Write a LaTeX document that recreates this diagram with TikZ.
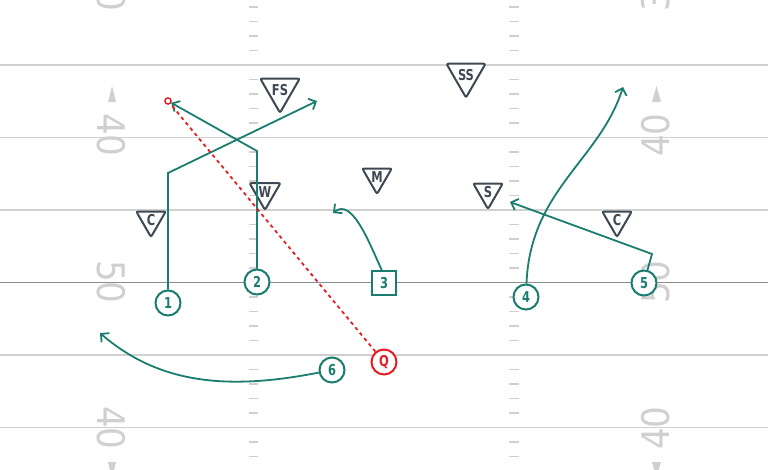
\documentclass[tikz,border=0pt]{standalone}
\usepackage{fontspec}
\newfontfamily\yardfont{DejaVu Sans Condensed}
\newfontfamily\playerfont{DejaVu Sans Condensed}[FakeStretch=0.85]
\usetikzlibrary{arrows.meta,shapes.geometric}

\definecolor{offcol}{RGB}{26,125,112}
\definecolor{defcol}{RGB}{62,72,82}
\definecolor{qbred}{RGB}{230,30,35}
\definecolor{numgray}{RGB}{208,208,208}
\definecolor{scrimgray}{RGB}{140,140,140}

\tikzset{
  yardline/.style={numgray, line width=1.5pt},
  scrimline/.style={scrimgray, line width=1.5pt},
  hashmark/.style={numgray, line width=1.3pt},
  yard/.style={text=numgray, font=\yardfont\fontsize{38}{38}\selectfont, inner sep=0pt},
  player/.style={circle, draw=offcol, fill=white, line width=2pt, minimum size=25pt,
    inner sep=0pt, text=offcol, font=\playerfont\bfseries\fontsize{15}{15}\selectfont},
  defender/.style={regular polygon, regular polygon sides=3, shape border rotate=180,
    draw=defcol, fill=white, line width=2pt, minimum size=34pt, inner sep=0pt,
    rounded corners=2pt, text=defcol, font=\playerfont\bfseries\fontsize{15}{15}\selectfont},
  route/.style={offcol, line width=1.8pt}
}

\begin{document}
\begin{tikzpicture}[x=1pt, y=-1pt, >={Straight Barb[length=6pt,width=12pt]}]
            \clip (0,0) rectangle (768,469);
            \fill[white] (0,0) rectangle (768,469);

            % Draw the yard lines
            \foreach \y in {65,137.5,210,355,427.5}
                \draw[yardline] (0,\y) -- (768,\y);
            \draw[scrimline] (0,282.5) -- (768,282.5);

            % Draw the hash marks
            \foreach \i in {-4,...,28} {
                \pgfmathtruncatemacro\r{mod(\i+20,5)}
                \pgfmathsetmacro\y{65+14.5*\i}
                \ifnum\r=0 \else
                    \draw[hashmark] (249,\y) -- (258,\y);
                    \draw[hashmark] (509,\y) -- (519,\y);
                \fi
            }

            % Draw the yard numbers
            \node[yard, rotate=-90] (l30) at (111.5,-10) {30};
            \node[yard, rotate=-90] (l40) at (111.5,135) {40};
            \node[yard, rotate=-90] (l50) at (111.5,282) {50};
            \node[yard, rotate=-90] (l40b) at (111.5,428) {40};
            \node[yard, rotate=90] (r30) at (655.5,-10) {30};
            \node[yard, rotate=90] (r40) at (655.5,135) {40};
            \node[yard, rotate=90] (r50) at (655.5,282) {50};
            \node[yard, rotate=90] (r40b) at (655.5,428) {40};
            \fill[numgray] (108,102) -- (116,102) -- (112,86) -- cycle;
            \fill[numgray] (652,102) -- (661,102) -- (656.5,86) -- cycle;
            \fill[numgray] (108,462) -- (116,462) -- (112,478) -- cycle;
            \fill[numgray] (652,462) -- (661,462) -- (656.5,478) -- cycle;

            % Draw the defense
            \node[defender] (cl) at (151,220) {C};
            \node[defender] (fs) at (280,90) {FS};
            \node[defender] (w) at (265,192) {W};
            \node[defender] (m) at (377,177) {M};
            \node[defender] (ss) at (466,75) {SS};
            \node[defender] (s) at (488,192) {S};
            \node[defender] (cr) at (617,220) {C};

            % Draw the offense
            \node[player] (p1) at (168,303) {1};
            \node[player] (p2) at (257,282) {2};
            \node[player, rectangle, minimum size=24pt] (p3) at (384,283) {3};
            \node[player] (p4) at (526,297) {4};
            \node[player] (p5) at (644,283) {5};
            \node[player] (p6) at (332,370) {6};
            \node[player, draw=qbred, text=qbred] (qb) at (384,362) {Q};
            \node[circle, draw=qbred, fill=white, line width=1.3pt, minimum size=6pt,
                inner sep=0pt] (spot) at (168,101) {};

            % Draw the routes
            \draw[route, ->] (p1) -- (168,173) -- (317,101);
            \draw[route, ->] (p2) -- (257,151) -- (spot);
            \draw[route, ->] (p3.100) .. controls (368,240) and (352,198) .. (333,213);
            \draw[route, ->] (p4) .. controls (530,190) and (600,160) .. (623,87);
            \draw[route, ->] (p5.75) -- (652,254) -- (510,202);
            \draw[route, ->] (p6) .. controls (230,390) and (160,385) .. (100,333);

            % Draw the pass
            \draw[qbred, line width=1.8pt, dash pattern=on 3.5pt off 3.5pt] (qb) -- (spot);
            \node[circle, draw=qbred, fill=white, line width=1.3pt, minimum size=6pt,
                inner sep=0pt] at (spot) {};

        \end{tikzpicture}
\end{document}
